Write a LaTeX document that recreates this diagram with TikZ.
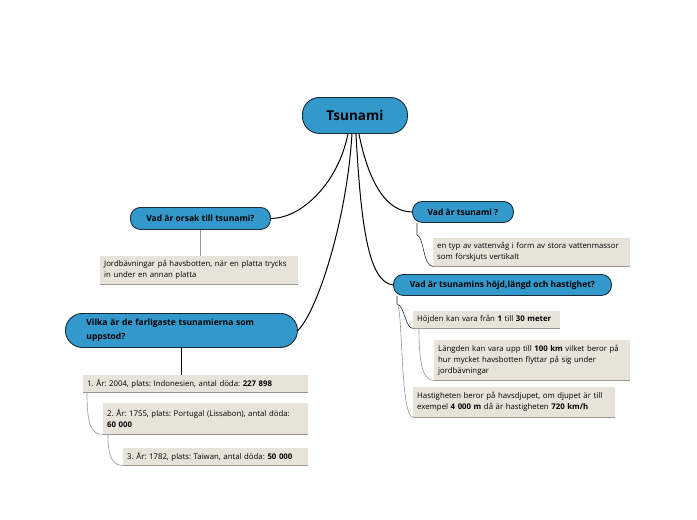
\documentclass[tikz,border=0pt]{standalone}
\usepackage{fontspec}
\setmainfont{Open Sans}
\setsansfont{Open Sans}
\usepackage{tikz}
\usetikzlibrary{positioning}
\usepackage{xcolor}
\definecolor{topicblue}{HTML}{3398CB}
\definecolor{topicline}{HTML}{1C2B36}
\definecolor{notefill}{HTML}{E7E3D9}
\definecolor{noteline}{HTML}{9A968E}
\hyphenpenalty=10000
\exhyphenpenalty=10000
\frenchspacing

\begin{document}
\begin{tikzpicture}[
  x=1pt, y=-1pt,
  font=\sffamily,
  topic/.style={draw=topicline, line width=0.9pt, fill=topicblue, rounded corners=10pt, anchor=north west, align=center, font=\sffamily\bfseries\fontsize{8.5}{14}\selectfont, inner sep=0pt},
  note/.style={fill=notefill, anchor=north west, align=left, font=\sffamily\fontsize{7.8}{11}\selectfont, inner xsep=4pt, inner ysep=0pt},
  branch/.style={line width=1pt, draw=black},
  twig/.style={line width=0.6pt, draw=noteline},
]
\useasboundingbox (0,0) rectangle (697,520);

% Central topic
\node[topic, rounded corners=17pt, minimum width=105pt, minimum height=36pt, font=\sffamily\bfseries\fontsize{13.5}{16}\selectfont] (root) at (302,97) {Tsunami};

% ========== left: cause ==========
\node[topic, minimum width=140pt, minimum height=22pt] (cause) at (130,207) {Vad är orsak till tsunami?};
\node[note, text width=190pt, minimum height=28pt] (cause_note) at (100,256) {Jordbävningar på havsbotten, när en platta trycks\\in under en annan platta};

% ========== left: worst tsunamis ==========
\node[topic, rounded corners=17pt, align=left, text width=190pt, inner xsep=21pt, minimum height=34pt] (worst) at (65,313) {Vilka är de farligaste tsunamierna som\\uppstod?};
\node[note, text width=217pt, minimum height=17pt] (worst_one) at (83,375) {1. År: 2004, plats: Indonesien, antal döda: \textbf{227~898}};
\node[note, text width=197pt, minimum height=31pt] (worst_two) at (103,403) {2. År: 1755, plats: Portugal (Lissabon), antal döda:\\\textbf{60~000}};
\node[note, text width=177pt, minimum height=17pt] (worst_three) at (123,448) {3. År: 1782, plats: Taiwan, antal döda: \textbf{50~000}};

% ========== right: what ==========
\node[topic, minimum width=101pt, minimum height=21pt] (what) at (412,201) {Vad är tsunami ?};
\node[note, text width=189pt, minimum height=28pt] (what_note) at (433,238) {en typ av vattenvåg i form av stora vattenmassor\\som förskjuts vertikalt};

% ========== right: size ==========
\node[topic, minimum width=218pt, minimum height=21pt] (size) at (393,274) {Vad är tsunamins höjd,längd och hastighet?};
\node[note, text width=139pt, minimum height=17pt] (size_height) at (413,311) {Höjden kan vara från \textbf{1} till \textbf{30 meter}};
\node[note, text width=188pt, minimum height=40pt] (size_length) at (434,340) {Längden kan vara upp till \textbf{100~km} vilket beror på\\hur mycket havsbotten flyttar på sig under\\jordbävningar};
\node[note, text width=194pt, minimum height=30pt] (size_speed) at (413,387) {Hastigheten beror på havsdjupet, om djupet är till\\exempel \textbf{4~000~m} då är hastigheten \textbf{720~km/h}};

% note bottom edges
\foreach \n in {cause_note,worst_one,worst_two,worst_three,what_note,size_height,size_length,size_speed}
  \draw[twig] (\n.south west) -- (\n.south east);

% branches from the central topic
\draw[branch] ([xshift=-7pt]root.south) .. controls +(-10,50) and +(30,0) .. (cause.east);
\draw[branch] ([xshift=-3pt]root.south) .. controls +(-5,85) and +(20,-20) .. (worst.east);
\draw[branch] ([xshift=1pt]root.south) .. controls +(5,90) and +(-25,-3) .. (size.west);
\draw[branch] ([xshift=4pt]root.south) .. controls +(10,50) and +(-25,0) .. (what.west);

% sub-branches
\draw[twig] (cause.south) -- (cause_note.north -| cause.south);
\draw[branch, line width=0.8pt] (worst.south) -- (worst_one.north -| worst.south);
\draw[twig] ([xshift=4pt]worst_one.south west) .. controls +(0,32) and +(-12,0) .. (worst_two.south west);
\draw[twig] ([xshift=5pt]worst_two.south west) .. controls +(0,24) and +(-10,0) .. (worst_three.south west);
\draw[twig, draw=topicline] ([xshift=5pt]what.south west) -- ++(0,12) coordinate (what_bend)
  .. controls +(7,2) and +(-10,0) .. (what_note.south west);
\draw[twig, draw=topicline] ([xshift=4pt]size.south west) -- ++(0,8) coordinate (size_bend)
  .. controls +(8,2) and +(-8,0) .. (size_height.south west);
\draw[twig] (size_bend) .. controls +(6,2) and +(-13,0) .. (size_speed.south west);
\draw[twig] ([xshift=6pt]size_height.south west) .. controls +(0,40) and +(-10,0) .. (size_length.south west);

\end{tikzpicture}
\end{document}
